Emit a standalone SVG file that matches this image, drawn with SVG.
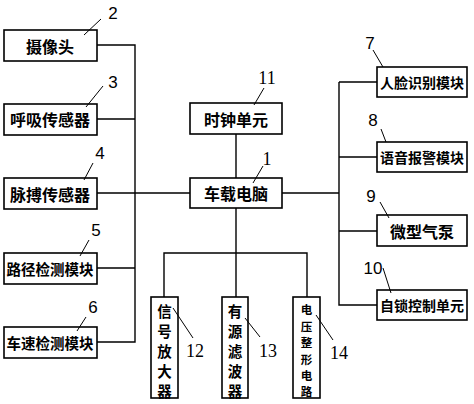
<svg xmlns="http://www.w3.org/2000/svg" width="474" height="404" viewBox="0 0 474 404">
<style>
.box{fill:#fff;stroke:#000;stroke-width:1.6}
.ln{fill:none;stroke:#000;stroke-width:1.4}
.ld{fill:none;stroke:#000;stroke-width:1}
.t{font-family:"Noto Sans CJK SC","Noto Sans",sans-serif;font-weight:bold;font-size:16px;fill:#000;text-anchor:middle;dominant-baseline:central}
.ts{font-size:14px}
.tv{font-size:14.5px}
.tx{font-size:11.5px}
.n{font-family:"Liberation Sans",Arial,sans-serif;font-size:17px;fill:#000;text-anchor:middle}
.ns{font-family:"Liberation Serif","Times New Roman",serif;font-size:18px;fill:#000;text-anchor:middle}
</style>
<rect width="474" height="404" fill="#fff"/>
<g id="connectors">
<path class="ln" d="M97 45H135V342H97M97 119H135M97 193H190M97 268H135"/>
<path class="ln" d="M236 134V178M282 193H339M339 82V305H377M339 82H377M339 157H377M339 231H377"/>
<path class="ln" d="M236 208V253M164 297V253H307V297M236 253V297"/>
</g>
<g id="n2"><rect class="box" x="4" y="30" width="93" height="31"/><text class="t" x="50" y="45.5">摄像头</text><path class="ld" d="M84 35L101 19"/><text class="n" x="113" y="19">2</text></g>
<g id="n3"><rect class="box" x="4" y="104" width="93" height="31"/><text class="t" x="50" y="119">呼吸传感器</text><path class="ld" d="M86 107L103 86"/><text class="n" x="113" y="88">3</text></g>
<g id="n4"><rect class="box" x="4" y="178" width="93" height="31"/><text class="t" x="50" y="193.5">脉搏传感器</text><path class="ld" d="M84 180L93 163"/><text class="n" x="100" y="159">4</text></g>
<g id="n5"><rect class="box" x="4" y="253" width="93" height="31"/><text class="t" style="font-size:14.5px" x="50" y="268">路径检测模块</text><path class="ld" d="M80 256L89 240"/><text class="n" x="96" y="236">5</text></g>
<g id="n6"><rect class="box" x="4" y="327" width="93" height="31"/><text class="t" style="font-size:14.5px" x="50" y="342.5">车速检测模块</text><path class="ld" d="M77 331L86 317"/><text class="n" x="93" y="313">6</text></g>
<g id="n11"><rect class="box" x="190" y="103" width="92" height="31"/><text class="t" x="236" y="118.5">时钟单元</text><path class="ld" d="M254 105L264 88"/><text class="ns" x="267" y="84">11</text></g>
<g id="n1"><rect class="box" x="190" y="178" width="92" height="30"/><text class="t" x="236" y="193">车载电脑</text><path class="ld" d="M253 183L263 166"/><text class="ns" x="267" y="165">1</text></g>
<g id="n7"><rect class="box" x="377" y="67" width="90" height="30"/><text class="t ts" x="422" y="82">人脸识别模块</text><path class="ld" d="M383 67L373 50"/><text class="n" x="370" y="49">7</text></g>
<g id="n8"><rect class="box" x="377" y="142" width="90" height="30"/><text class="t ts" x="422" y="157">语音报警模块</text><path class="ld" d="M386 142L381 129"/><text class="n" x="373" y="126">8</text></g>
<g id="n9"><rect class="box" x="377" y="215" width="90" height="31"/><text class="t" x="422" y="230.5">微型气泵</text><path class="ld" d="M389 218L380 202"/><text class="n" x="371" y="202">9</text></g>
<g id="n10"><rect class="box" x="377" y="290" width="90" height="30"/><text class="t ts" x="422" y="305">自锁控制单元</text><path class="ld" d="M391 293L383 268"/><text class="n" x="373" y="274">10</text></g>
<g id="n12"><rect class="box" x="151" y="297" width="27" height="101"/>
<text class="t tv" x="164.5"><tspan x="164.5" y="310">信</tspan><tspan x="164.5" y="330">号</tspan><tspan x="164.5" y="350">放</tspan><tspan x="164.5" y="370">大</tspan><tspan x="164.5" y="390">器</tspan></text>
<path class="ld" d="M173 308L193 338"/><text class="ns" x="195" y="357">12</text></g>
<g id="n13"><rect class="box" x="222" y="297" width="26" height="101"/>
<text class="t tv" x="235"><tspan x="235" y="310">有</tspan><tspan x="235" y="330">源</tspan><tspan x="235" y="350">滤</tspan><tspan x="235" y="370">波</tspan><tspan x="235" y="390">器</tspan></text>
<path class="ld" d="M245 318L260 337"/><text class="ns" x="268" y="357">13</text></g>
<g id="n14"><rect class="box" x="293" y="297" width="27" height="101"/>
<text class="t tx" x="306.5"><tspan x="306.5" y="309">电</tspan><tspan x="306.5" y="325.5">压</tspan><tspan x="306.5" y="342">整</tspan><tspan x="306.5" y="358.5">形</tspan><tspan x="306.5" y="375">电</tspan><tspan x="306.5" y="391">路</tspan></text>
<path class="ld" d="M316 315L333 340"/><text class="ns" x="339" y="359">14</text></g>
</svg>
